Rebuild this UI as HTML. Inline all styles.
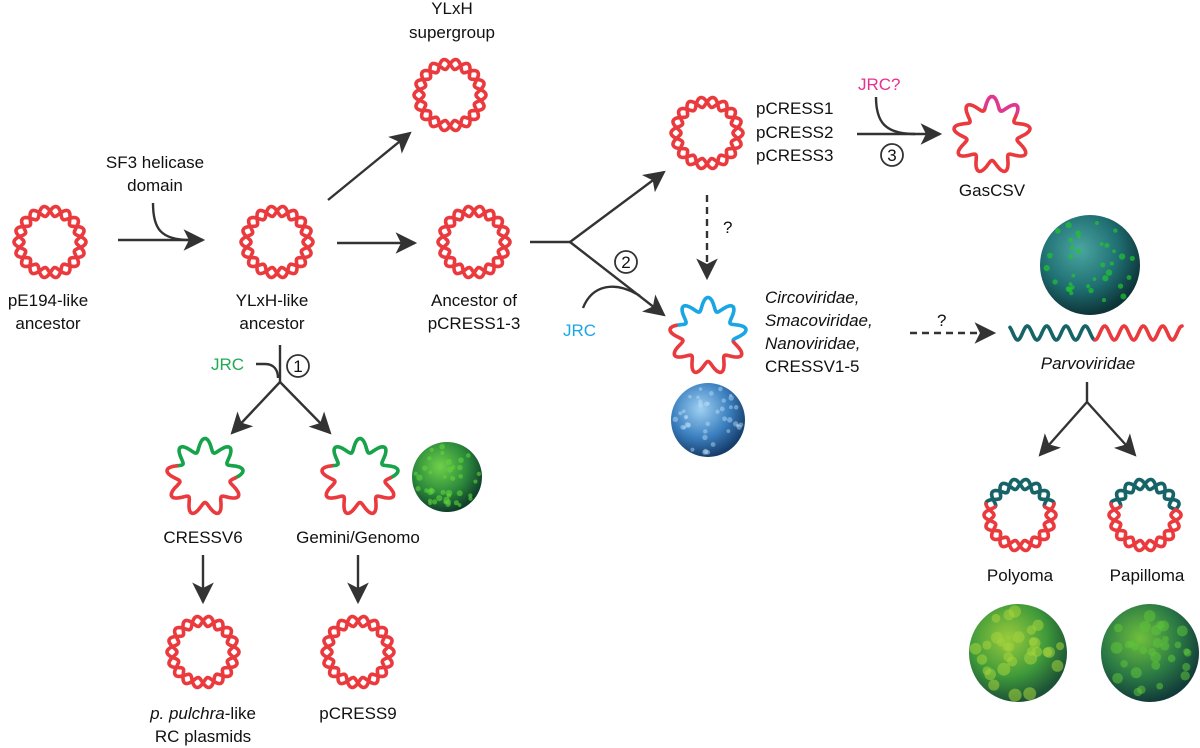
<!DOCTYPE html>
<html><head><meta charset="utf-8"><style>
html,body{margin:0;padding:0;background:#fff;width:1200px;height:748px;overflow:hidden}
svg text{font-family:"Liberation Sans",Arial,sans-serif;font-size:17px;fill:#111}
.i{font-style:italic}
</style></head><body>
<svg id="s" width="1200" height="748" viewBox="0 0 1200 748" xmlns="http://www.w3.org/2000/svg">
<defs>
<marker id="ah" viewBox="0 0 10 10" refX="9" refY="5" markerWidth="10" markerHeight="9" orient="auto" markerUnits="strokeWidth"><path d="M0,0 L10,5 L0,10 L2.5,5 z" fill="#333"/></marker>
<radialGradient id="gGem" cx="40%" cy="35%" r="65%"><stop offset="0" stop-color="#6fd04a"/><stop offset="0.6" stop-color="#2c8a3c"/><stop offset="1" stop-color="#0f3f2a"/></radialGradient>
<radialGradient id="gBlue" cx="40%" cy="35%" r="65%"><stop offset="0" stop-color="#9fd0f2"/><stop offset="0.6" stop-color="#3b7fbf"/><stop offset="1" stop-color="#163e6c"/></radialGradient>
<radialGradient id="gParvo" cx="40%" cy="35%" r="65%"><stop offset="0" stop-color="#4aa6a0"/><stop offset="0.6" stop-color="#1f6e72"/><stop offset="1" stop-color="#0d3438"/></radialGradient>
<radialGradient id="gPoly" cx="40%" cy="35%" r="65%"><stop offset="0" stop-color="#9acb3c"/><stop offset="0.6" stop-color="#3f9a3a"/><stop offset="1" stop-color="#1c5236"/></radialGradient>
<radialGradient id="gPap" cx="40%" cy="35%" r="65%"><stop offset="0" stop-color="#6fc03c"/><stop offset="0.6" stop-color="#2b7a45"/><stop offset="1" stop-color="#123c3a"/></radialGradient>
</defs>
<g id="shapes"></g>
<g stroke="#333" stroke-width="2.4" fill="none">
<line x1="118" y1="240" x2="203" y2="240" marker-end="url(#ah)"/>
<path d="M153,203 C153,228 160,240 190,240"/>
<line x1="328" y1="200" x2="410" y2="133" marker-end="url(#ah)"/>
<line x1="337" y1="243" x2="415" y2="243" marker-end="url(#ah)"/>
<path d="M530,242 L570,242"/>
<line x1="570" y1="242" x2="664" y2="172" marker-end="url(#ah)"/>
<line x1="570" y1="242" x2="664" y2="315" marker-end="url(#ah)"/>
<path d="M583,308 C592,285 615,280 640,296"/>
<circle cx="626" cy="262" r="11" stroke-width="1.8"/>
<line x1="707" y1="195" x2="707" y2="278" stroke-dasharray="7,5" marker-end="url(#ah)"/>
<line x1="857" y1="134" x2="940" y2="134" marker-end="url(#ah)"/>
<path d="M876,97 C876,122 885,134 915,134"/>
<circle cx="892" cy="155" r="11" stroke-width="1.8"/>
<line x1="910" y1="333" x2="994" y2="333" stroke-dasharray="7,5" marker-end="url(#ah)"/>
<line x1="280" y1="345" x2="280" y2="382"/>
<line x1="280" y1="382" x2="232" y2="433" marker-end="url(#ah)"/>
<line x1="280" y1="382" x2="330" y2="433" marker-end="url(#ah)"/>
<path d="M256,364 L265,364 C274,364 278,370 278,378"/>
<circle cx="298" cy="366" r="11" stroke-width="1.8"/>
<line x1="203" y1="555" x2="203" y2="602" marker-end="url(#ah)"/>
<line x1="358" y1="555" x2="358" y2="602" marker-end="url(#ah)"/>
<line x1="1087" y1="382" x2="1087" y2="402"/>
<line x1="1087" y1="402" x2="1040" y2="455" marker-end="url(#ah)"/>
<line x1="1087" y1="402" x2="1135" y2="455" marker-end="url(#ah)"/>
</g>
<g text-anchor="middle">
<text x="452" y="14">YLxH</text><text x="452" y="38">supergroup</text>
<text x="155" y="168">SF3 helicase</text><text x="155" y="191">domain</text>
<text x="48" y="306">pE194-like</text><text x="48" y="329">ancestor</text>
<text x="272" y="306">YLxH-like</text><text x="272" y="329">ancestor</text>
<text x="474" y="306">Ancestor of</text><text x="474" y="329">pCRESS1-3</text>
<text x="626" y="268" font-size="15">2</text>
<text x="892" y="161" font-size="15">3</text>
<text x="298" y="372" font-size="15">1</text>
<text x="992" y="196">GasCSV</text>
<text x="203" y="543">CRESSV6</text>
<text x="358" y="543">Gemini/Genomo</text>
<text x="203" y="719"><tspan class="i">p. pulchra</tspan>-like</text>
<text x="203" y="742">RC plasmids</text>
<text x="358" y="719">pCRESS9</text>
<text x="1088" y="369" class="i">Parvoviridae</text>
<text x="1020" y="581">Polyoma</text>
<text x="1147" y="581">Papilloma</text>
</g>
<text x="756" y="114">pCRESS1</text><text x="756" y="138">pCRESS2</text><text x="756" y="161">pCRESS3</text>
<text x="858" y="90" style="fill:#e8308f">JRC?</text>
<text x="723" y="233" font-size="15">?</text>
<text x="937" y="326" font-size="15">?</text>
<text x="563" y="336" style="fill:#1aa7e6">JRC</text>
<text x="211" y="370" style="fill:#1fab52">JRC</text>
<text x="765" y="303" class="i">Circoviridae,</text><text x="765" y="326" class="i">Smacoviridae,</text><text x="765" y="349" class="i">Nanoviridae,</text>
<text x="765" y="372">CRESSV1-5</text>
</svg>
<script>
var NS="http://www.w3.org/2000/svg",G=document.getElementById('shapes');
function el(t,a){var e=document.createElementNS(NS,t);for(var k in a)e.setAttribute(k,a[k]);G.appendChild(e);return e;}
function pts(cx,cy,R,a,n,t0,t1,ph,rot){var d='';var N=300;for(var i=0;i<=N;i++){var t=t0+(t1-t0)*i/N;var r=R+a*Math.sin(n*t+ph);var x=cx+r*Math.cos(t+rot),y=cy+r*Math.sin(t+rot);d+=(i?'L':'M')+x.toFixed(1)+','+y.toFixed(1);}return d;}
function plasmid(cx,cy,ranges){var R=31,a=5,n=9;ranges.forEach(function(g){[0,Math.PI].forEach(function(ph){el('path',{d:pts(cx,cy,R,a,n,g[0],g[1],ph,-Math.PI/2),fill:'none',stroke:g[2],'stroke-width':3.6,'stroke-linecap':'round'});});});}
function star(cx,cy,ranges){var R=32,a=6.5,n=9;ranges.forEach(function(g){el('path',{d:pts(cx,cy,R,a,n,g[0],g[1],Math.PI/2,-Math.PI/2),fill:'none',stroke:g[2],'stroke-width':3.6,'stroke-linecap':'round'});});}
var T=2*Math.PI,RED='#ea3a3e';
[[50,242],[277,242],[450,95],[474,242],[707,133],[203,652],[358,652]].forEach(function(p){plasmid(p[0],p[1],[[0,T,RED]]);});
var TEAL='#176468';
plasmid(1020,515,[[-1.25,1.25,TEAL],[1.25,T-1.25,RED]]);
plasmid(1145,515,[[-1.25,1.4,TEAL],[1.4,T-1.25,RED]]);
var GR='#16a34a';
star(205,477,[[-1.2,1.6,GR],[1.6,T-1.2,RED]]);
star(360,477,[[-1.2,1.6,GR],[1.6,T-1.2,RED]]);
star(992,135,[[-0.3,0.9,'#e0388f'],[0.9,T-0.3,RED]]);
star(708,336,[[-1.25,1.8,'#19a6e4'],[1.8,T-1.25,RED]]);
(function(){function w(x0,x1,c){var d='';for(var x=x0;x<=x1;x+=1){var y=333-7*Math.cos((x-1008)/87*2*Math.PI*4.5);d+=(x==x0?'M':'L')+x+','+y.toFixed(1);}el('path',{d:d,fill:'none',stroke:c,'stroke-width':3.6,'stroke-linecap':'round'});}w(1010,1094,TEAL);w(1095,1182,RED);})();
function sphere(cx,cy,r,g,dot,nd,dr,op){el('circle',{cx:cx,cy:cy,r:r,fill:'url(#'+g+')'});var s=cx*7+cy;function rnd(){s=(s*9301+49297)%233280;return s/233280;}for(var i=0;i<nd;i++){var ang=rnd()*T,rr=Math.sqrt(rnd())*(r-dr);el('circle',{cx:cx+rr*Math.cos(ang),cy:cy+rr*Math.sin(ang),r:dr*(0.6+0.5*rnd()),fill:dot,opacity:op});}}
sphere(447,477,35,'gGem','#5fd33a',40,3,0.6);
sphere(708,420,37,'gBlue','#bfe3fb',40,2.5,0.45);
sphere(1090,265,50,'gParvo','#22c42e',35,3,0.7);
sphere(1018,653,49,'gPoly','#a4d43c',30,6,0.55);
sphere(1150,653,49,'gPap','#5dc23a',30,5.5,0.55);
</script>
</body></html>
